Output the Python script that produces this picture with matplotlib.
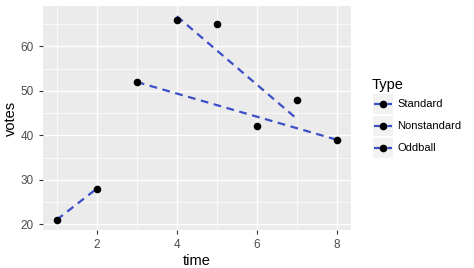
import numpy as np
import matplotlib
matplotlib.use("Agg")
import matplotlib.pyplot as plt
from matplotlib.patches import Rectangle
from matplotlib.lines import Line2D

plt.rcParams['font.family'] = ['Liberation Sans', 'DejaVu Sans']

# data
time = [1, 2, 3, 4, 5, 6, 7, 8]
votes = [21, 28, 52, 66, 65, 42, 48, 39]
vtype = ["Standard", "Standard", "Oddball", "Nonstandard", "Nonstandard",
         "Nonstandard", "Nonstandard", "Oddball"]
type_levels = ["Standard", "Nonstandard", "Oddball"]

bg = "#EBEBEB"
blue = "#3C4FC6"
tick_col = "#4D4D4D"
dash = (0, (3.5, 2.5))

fig = plt.figure(figsize=(4.74, 2.68), dpi=100)
ax = fig.add_axes([42.7 / 474, 1 - 230 / 268, (351 - 42.7) / 474, (230 - 6) / 268])
ax.set_facecolor(bg)

t = np.array(time)
v = np.array(votes)
g = np.array(vtype)

# linear fit per type, like geom_smooth(method = "lm")
for lev in type_levels:
    m = g == lev
    slope, icpt = np.polyfit(t[m], v[m], 1)
    xs = np.array([t[m].min(), t[m].max()])
    ax.plot(xs, icpt + slope * xs, color=blue, lw=1.6, ls=dash, zorder=3)

ax.scatter(t, v, s=20, color="black", zorder=4)

ax.set_xlim(0.65, 8.35)
ax.set_ylim(18.7, 69.1)
ax.set_xticks([2, 4, 6, 8])
ax.set_yticks([20, 30, 40, 50, 60])
ax.set_xticks([1, 3, 5, 7], minor=True)
ax.set_yticks([25, 35, 45, 55, 65], minor=True)
ax.grid(which="major", color="white", lw=1.0)
ax.grid(which="minor", color="white", lw=0.5)
ax.set_axisbelow(True)
for s in ax.spines.values():
    s.set_visible(False)
ax.tick_params(which="major", colors="#333333", labelcolor=tick_col, labelsize=8.5, length=3, width=0.8)
ax.tick_params(which="minor", length=0)
ax.set_xlabel("time", fontsize=10.5, labelpad=2)
ax.set_ylabel("votes", fontsize=10.5, labelpad=2)

# legend drawn by hand to get ggplot style keys
W, H = 474, 268
fig.text(372 / W, 1 - 85 / H, "Type", fontsize=10.5, va="center", ha="left")
for i, lev in enumerate(type_levels):
    yc = 104 + i * 22
    fig.add_artist(Rectangle((373 / W, 1 - (yc + 10) / H), 20 / W, 20 / H,
                             transform=fig.transFigure, facecolor="#F2F2F2", edgecolor="none"))
    fig.add_artist(Line2D([374 / W, 392 / W], [1 - yc / H, 1 - yc / H], transform=fig.transFigure,
                          color=blue, lw=1.6, ls=dash))
    fig.add_artist(Line2D([383 / W], [1 - yc / H], transform=fig.transFigure,
                          marker="o", ms=4.5, color="black", ls="none"))
    fig.text(397 / W, 1 - yc / H, lev, fontsize=8, va="center", ha="left")

fig.savefig("out.png", dpi=100)
